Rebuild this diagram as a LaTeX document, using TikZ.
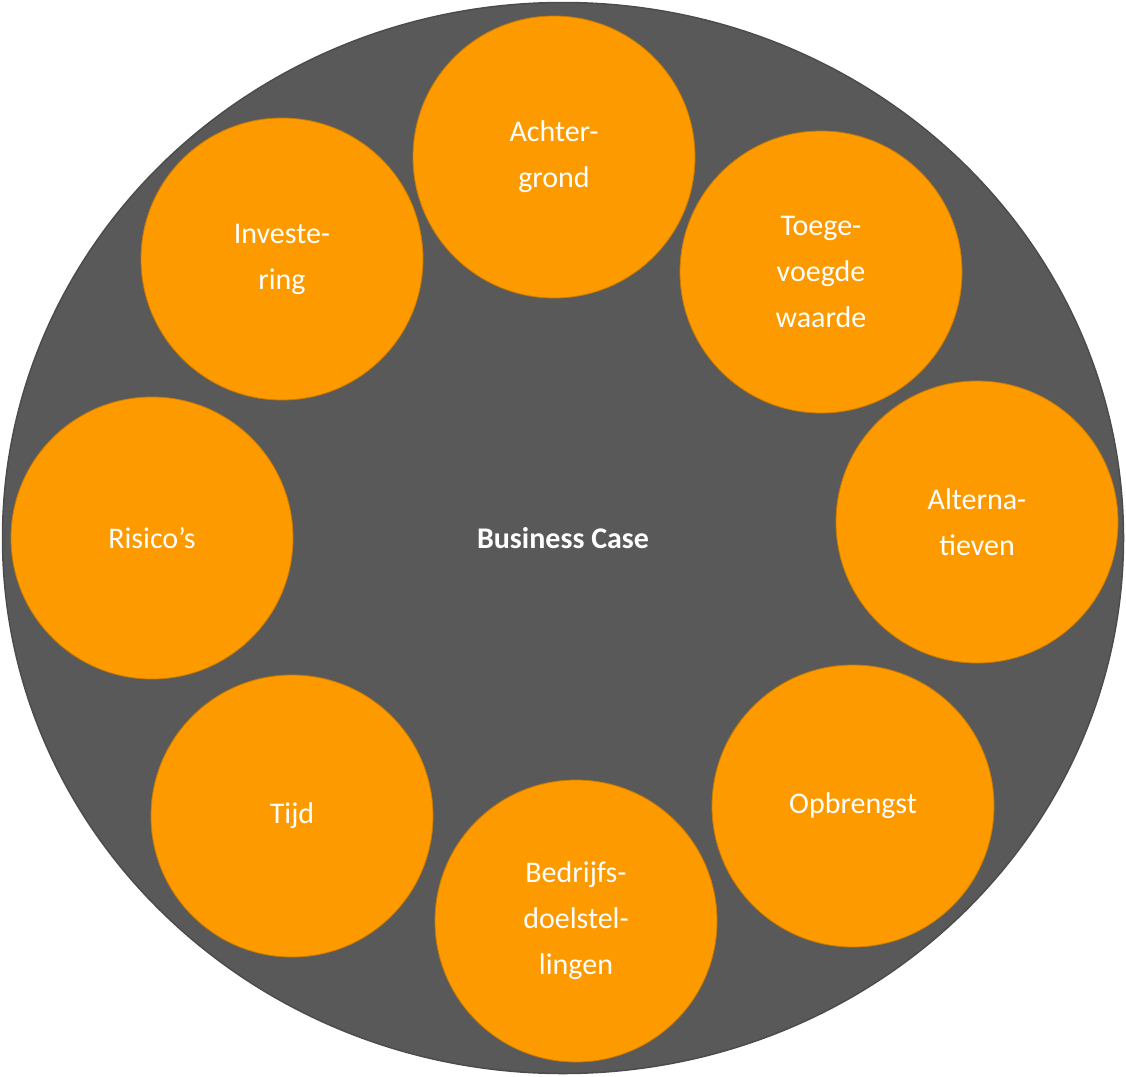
\documentclass[tikz,border=0pt]{standalone}
\usepackage{fontspec}
\usetikzlibrary{shapes.geometric}
\setmainfont{Carlito}
\definecolor{bg}{HTML}{595959}
\definecolor{org}{HTML}{FC9A00}
\begin{document}
\begin{tikzpicture}[x=1pt,y=-1pt,
  item/.style={circle,fill=org,draw=org!80!black,line width=0.8pt,minimum size=282pt,inner sep=0pt,
    text=white,align=center,font=\fontsize{30}{46}\selectfont}]
\useasboundingbox (0,0) rectangle (1126,1076);
\node[ellipse,draw=black!70,line width=1.5pt,fill=bg,minimum width=1121pt,minimum height=1071pt,inner sep=0pt] (bg) at (563,538) {};
\node[text=white,font=\fontsize{30}{36}\selectfont\bfseries] (bc) at (563,538) {Business Case};
\node[item] (a) at (554,157) {Achter-\\grond};
\node[item] (b) at (821,272) {Toege-\\voegde\\waarde};
\node[item] (c) at (977,522) {Alterna-\\tieven};
\node[item] (d) at (853,806) {Opbrengst};
\node[item] (e) at (576,921) {Bedrijfs-\\doelstel-\\lingen};
\node[item] (f) at (292,816) {Tijd};
\node[item] (g) at (152,538) {Risico’s};
\node[item] (h) at (282,259) {Investe-\\ring};
\end{tikzpicture}
\end{document}
